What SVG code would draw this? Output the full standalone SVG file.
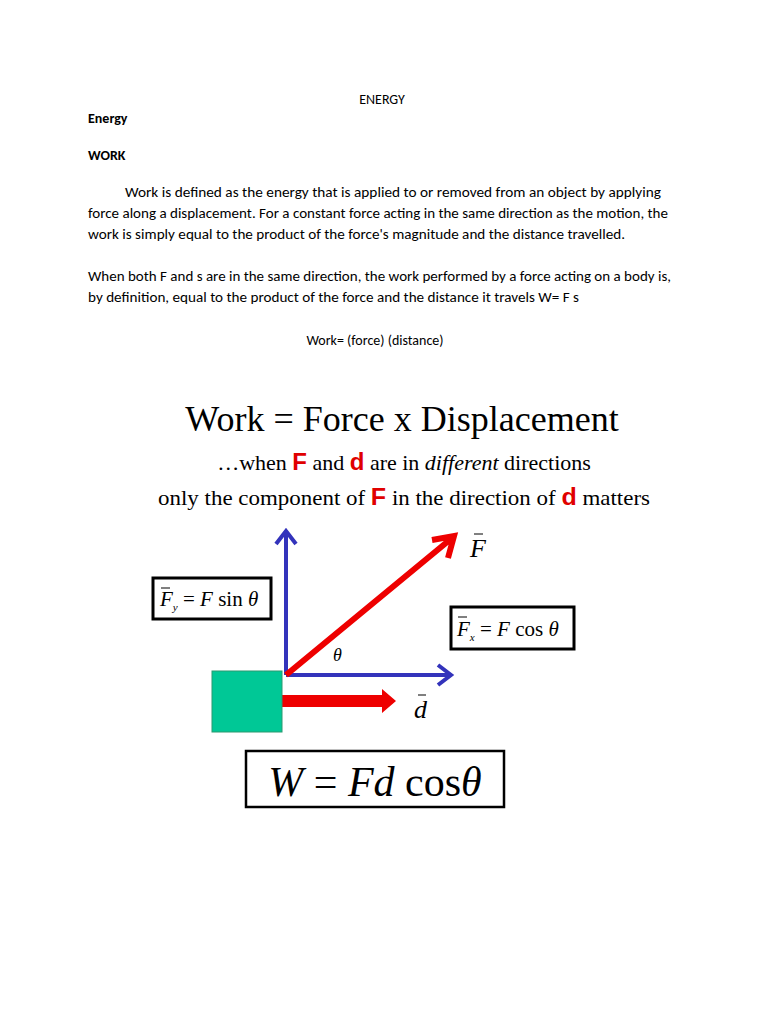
<svg xmlns="http://www.w3.org/2000/svg" width="768" height="1024" viewBox="0 0 768 1024">
<style>
.b{font-family:Calibri,"Carlito","Liberation Sans",sans-serif;font-size:14px;fill:#000}
.t{font-family:"Liberation Serif",serif;fill:#000}
.r{fill:#e00000;font-family:"Liberation Sans",sans-serif;font-weight:bold}
.m{font-family:"Liberation Serif",serif;font-style:italic}
.box{fill:#fff;stroke:#000;stroke-width:3}
.blue{stroke:#3333bb;stroke-width:4;fill:none}
.red{stroke:#ee0000;stroke-width:6;fill:none}
</style>
<rect width="768" height="1024" fill="#fff"/>
<text class="b" x="382" y="104" text-anchor="middle" font-size="13">ENERGY</text>
<text class="b" x="88" y="123" font-weight="bold">Energy</text>
<text class="b" x="88" y="160" font-weight="bold">WORK</text>
<text class="b" x="125" y="197" textLength="536" lengthAdjust="spacingAndGlyphs">Work is defined as the energy that is applied to or removed from an object by applying</text>
<text class="b" x="88" y="218" textLength="580" lengthAdjust="spacingAndGlyphs">force along a displacement. For a constant force acting in the same direction as the motion, the</text>
<text class="b" x="88" y="239" textLength="537" lengthAdjust="spacingAndGlyphs">work is simply equal to the product of the force's magnitude and the distance travelled.</text>
<text class="b" x="88" y="281" textLength="583" lengthAdjust="spacingAndGlyphs">When both F and s are in the same direction, the work performed by a force acting on a body is,</text>
<text class="b" x="88" y="302" textLength="491" lengthAdjust="spacingAndGlyphs">by definition, equal to the product of the force and the distance it travels W= F s</text>
<text class="b" x="375" y="345" text-anchor="middle">Work= (force) (distance)</text>
<text class="t" x="402" y="431" font-size="36" text-anchor="middle">Work = Force x Displacement</text>
<text class="t" x="404" y="470" font-size="22" text-anchor="middle">…when <tspan class="r" font-size="24">F</tspan> and <tspan class="r" font-size="24">d</tspan> are in <tspan font-style="italic">different</tspan> directions</text>
<text class="t" x="404" y="505" font-size="22" text-anchor="middle" textLength="492" lengthAdjust="spacingAndGlyphs">only the component of <tspan class="r" font-size="24">F</tspan> in the direction of <tspan class="r" font-size="24">d</tspan> matters</text>
<g id="connectors">
<path class="blue" d="M286 675V532M276 544L286 531L296 544"/>
<path class="blue" d="M286 675H450M438 665L451 675L438 685"/>
<path class="red" d="M286 675L452 538M432 540L454 536L448 558"/>
<path d="M282 695H382V689L396 701L382 713V707H282Z" fill="#ee0000"/>
</g>
<g id="block"><rect x="212" y="671" width="70" height="61" fill="#00c896" stroke="#2a9a70"/></g>
<g id="fy"><rect class="box" x="153" y="578" width="118" height="41"/>
<text class="t" x="160" y="606" font-size="21"><tspan class="m">F</tspan><tspan class="m" font-size="11" dy="5">y</tspan><tspan dy="-5"> = </tspan><tspan class="m">F</tspan> sin <tspan class="m">θ</tspan></text>
<path d="M161 588h9" stroke="#000"/></g>
<g id="fx"><rect class="box" x="451" y="607" width="123" height="42"/>
<text class="t" x="457" y="636" font-size="21"><tspan class="m">F</tspan><tspan class="m" font-size="11" dy="5">x</tspan><tspan dy="-5"> = </tspan><tspan class="m">F</tspan> cos <tspan class="m">θ</tspan></text>
<path d="M458 617h9" stroke="#000"/></g>
<text class="m" x="470" y="557" font-size="26">F</text><path d="M474 534h9" stroke="#000"/>
<text class="m" x="414" y="718" font-size="26">d</text><path d="M418 695h8" stroke="#000"/>
<text class="m" x="333" y="661" font-size="18">θ</text>
<g id="w"><rect x="246" y="751" width="258" height="56" fill="#fff" stroke="#000" stroke-width="2.5"/>
<text class="t" x="375" y="796" font-size="42" text-anchor="middle"><tspan class="m">W</tspan> = <tspan class="m">Fd</tspan> cos<tspan class="m">θ</tspan></text></g>
</svg>
